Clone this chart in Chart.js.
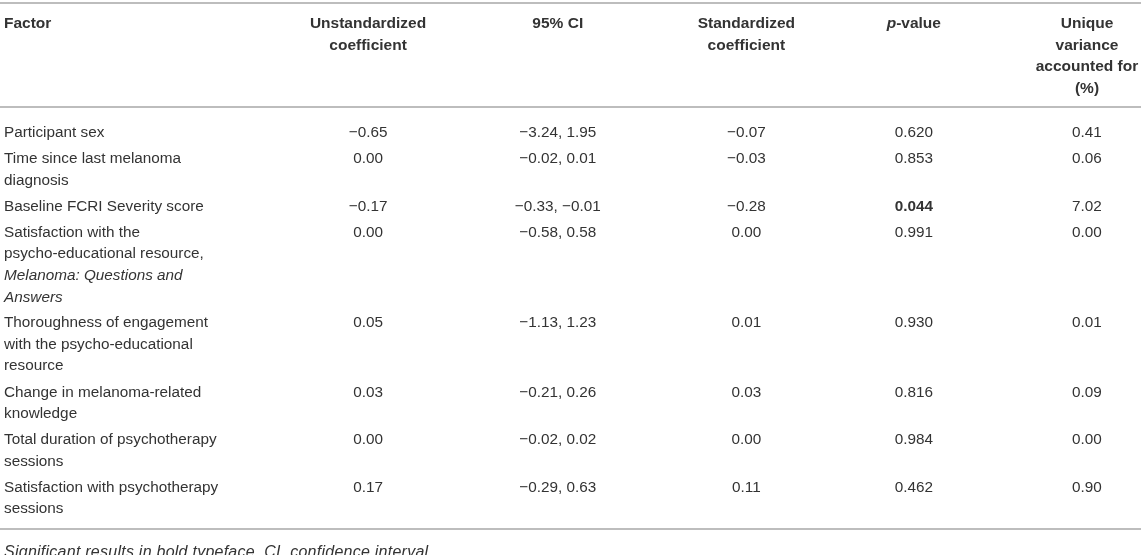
<!DOCTYPE html>
<html><head><meta charset="utf-8">
<script src="https://cdn.jsdelivr.net/npm/chart.js@4.4.1/dist/chart.umd.min.js"></script>
<style>html,body{margin:0;padding:0;background:#fff;overflow:hidden}#wrap{width:1143px;height:555px}</style>
</head><body><div id="wrap"><canvas id="c" width="1143" height="555"></canvas></div>
<script>
// ---- data ----
const headers = [
  ['Factor'],
  ['Unstandardized', 'coefficient'],
  ['95% CI'],
  ['Standardized', 'coefficient'],
  ['p-value'],
  ['Unique', 'variance', 'accounted for', '(%)']
];
const factors = [
  ['Participant sex'],
  ['Time since last melanoma', 'diagnosis'],
  ['Baseline FCRI Severity score'],
  ['Satisfaction with the', 'psycho-educational resource,', 'Melanoma: Questions and', 'Answers'],
  ['Thoroughness of engagement', 'with the psycho-educational', 'resource'],
  ['Change in melanoma-related', 'knowledge'],
  ['Total duration of psychotherapy', 'sessions'],
  ['Satisfaction with psychotherapy', 'sessions']
];
const italicFactorLines = [[], [], [], [2, 3], [], [], [], []];
const unstandardized = [-0.65, 0.00, -0.17, 0.00, 0.05, 0.03, 0.00, 0.17];
const ciLower = [-3.24, -0.02, -0.33, -0.58, -1.13, -0.21, -0.02, -0.29];
const ciUpper = [1.95, 0.01, -0.01, 0.58, 1.23, 0.26, 0.02, 0.63];
const standardized = [-0.07, -0.03, -0.28, 0.00, 0.01, 0.03, 0.00, 0.11];
const pValues = [0.620, 0.853, 0.044, 0.991, 0.930, 0.816, 0.984, 0.462];
const uniqueVariance = [0.41, 0.06, 7.02, 0.00, 0.01, 0.09, 0.00, 0.90];
const footnote = 'Significant results in bold typeface. CI, confidence interval.';
const alpha = 0.05;

// ---- layout (style, not data) ----
const LAYOUT = {
  colAnchor: [0.35, 32.2, 48.8, 65.3, 79.95, 95.1],
  yMin: -1.056, yMax: 24.758,
  topRule: -0.92, headerRuleOffset: -0.06, firstRowGap: 1.13,
  rowGap: 0.21, bottomRuleGap: 1.0, footGap: 1.02,
  textNudge: 1.5
};
const FONT = '"Liberation Sans", Arial, Helvetica, sans-serif';
const BODY = '15.3px ' + FONT;
const HEAD = 'bold 15.5px ' + FONT;
const TEXT = '#333333';
const RULE = '#bdbdbd';

const minus = v => (v < 0 ? '\u2212' : '') + Math.abs(v).toFixed(2);
const fmtP = v => v.toFixed(3);

// row positions in line units derived from the number of lines per row
const headerRule = headers.reduce((m, h) => Math.max(m, h.length), 0) + LAYOUT.headerRuleOffset;
const rowStart = [];
let yAcc = headerRule + LAYOUT.firstRowGap;
factors.forEach(f => { rowStart.push(yAcc); yAcc += f.length + LAYOUT.rowGap; });
const bottomRule = rowStart[rowStart.length - 1] + factors[factors.length - 1].length - 1 + LAYOUT.bottomRuleGap;
const footY = bottomRule + LAYOUT.footGap;

const cellText = [
  factors.map(f => f),
  unstandardized.map(v => [minus(v)]),
  ciLower.map((v, i) => [minus(v) + ', ' + minus(ciUpper[i])]),
  standardized.map(v => [minus(v)]),
  pValues.map(v => [fmtP(v)]),
  uniqueVariance.map(v => [v.toFixed(2)])
];

const datasets = cellText.map((col, c) => ({
  label: headers[c].join(' '),
  data: rowStart.map(r => ({ x: LAYOUT.colAnchor[c], y: r })),
  pointRadius: 0, showLine: false
}));
datasets.push({
  label: 'header',
  data: headers.map((h, c) => ({ x: LAYOUT.colAnchor[c], y: 0 })),
  pointRadius: 0, showLine: false
});

const tablePlugin = {
  id: 'table',
  afterDatasetsDraw(chart) {
    const ctx = chart.ctx;
    const xs = chart.scales.x, ys = chart.scales.y;
    const area = chart.chartArea;
    const ds = chart.data.datasets;
    const ty = u => ys.getPixelForValue(u) + LAYOUT.textNudge;
    ctx.save();
    ctx.textBaseline = 'middle';
    ctx.fillStyle = TEXT;
    // rules
    ctx.strokeStyle = RULE;
    ctx.lineWidth = 2;
    [LAYOUT.topRule, headerRule, bottomRule].forEach(u => {
      const py = Math.round(ys.getPixelForValue(u));
      ctx.beginPath();
      ctx.moveTo(area.left, py);
      ctx.lineTo(area.right - 2, py);
      ctx.stroke();
    });
    // header
    const hd = ds[ds.length - 1].data;
    headers.forEach((lines, c) => {
      const px = xs.getPixelForValue(hd[c].x);
      lines.forEach((ln, k) => {
        const py = ty(hd[c].y + k);
        if (ln === 'p-value') {
          const a = 'italic ' + HEAD, b = HEAD;
          ctx.font = a; const wa = ctx.measureText('p').width;
          ctx.font = b; const wb = ctx.measureText('-value').width;
          const x0 = px - (wa + wb) / 2;
          ctx.textAlign = 'left';
          ctx.font = a; ctx.fillText('p', x0, py);
          ctx.font = b; ctx.fillText('-value', x0 + wa, py);
        } else {
          ctx.font = HEAD;
          ctx.textAlign = c === 0 ? 'left' : 'center';
          ctx.fillText(ln, px, py);
        }
      });
    });
    // body
    cellText.forEach((col, c) => {
      const d = ds[c].data;
      col.forEach((lines, r) => {
        const px = xs.getPixelForValue(d[r].x);
        lines.forEach((ln, k) => {
          const py = ty(d[r].y + k);
          let style = '';
          if (c === 0 && italicFactorLines[r].includes(k)) style = 'italic ';
          if (c === 4 && pValues[r] < alpha) style = 'bold ';
          ctx.font = style + BODY;
          ctx.textAlign = c === 0 ? 'left' : 'center';
          ctx.fillText(ln, px, py);
        });
      });
    });
    // footnote
    ctx.font = 'italic 16px ' + FONT;
    if ('letterSpacing' in ctx) ctx.letterSpacing = '0.25px';
    ctx.textAlign = 'left';
    ctx.fillText(footnote, xs.getPixelForValue(LAYOUT.colAnchor[0]), ty(footY));
    ctx.restore();
  }
};

new Chart(document.getElementById('c'), {
  type: 'scatter',
  data: { datasets },
  options: {
    responsive: false,
    animation: false,
    layout: { padding: 0 },
    plugins: { legend: { display: false }, tooltip: { enabled: false }, title: { display: false } },
    scales: {
      x: { type: 'linear', display: false, min: 0, max: 100 },
      y: { type: 'linear', display: false, min: LAYOUT.yMin, max: LAYOUT.yMax, reverse: true }
    }
  },
  plugins: [tablePlugin]
});
</script>
</body></html>
